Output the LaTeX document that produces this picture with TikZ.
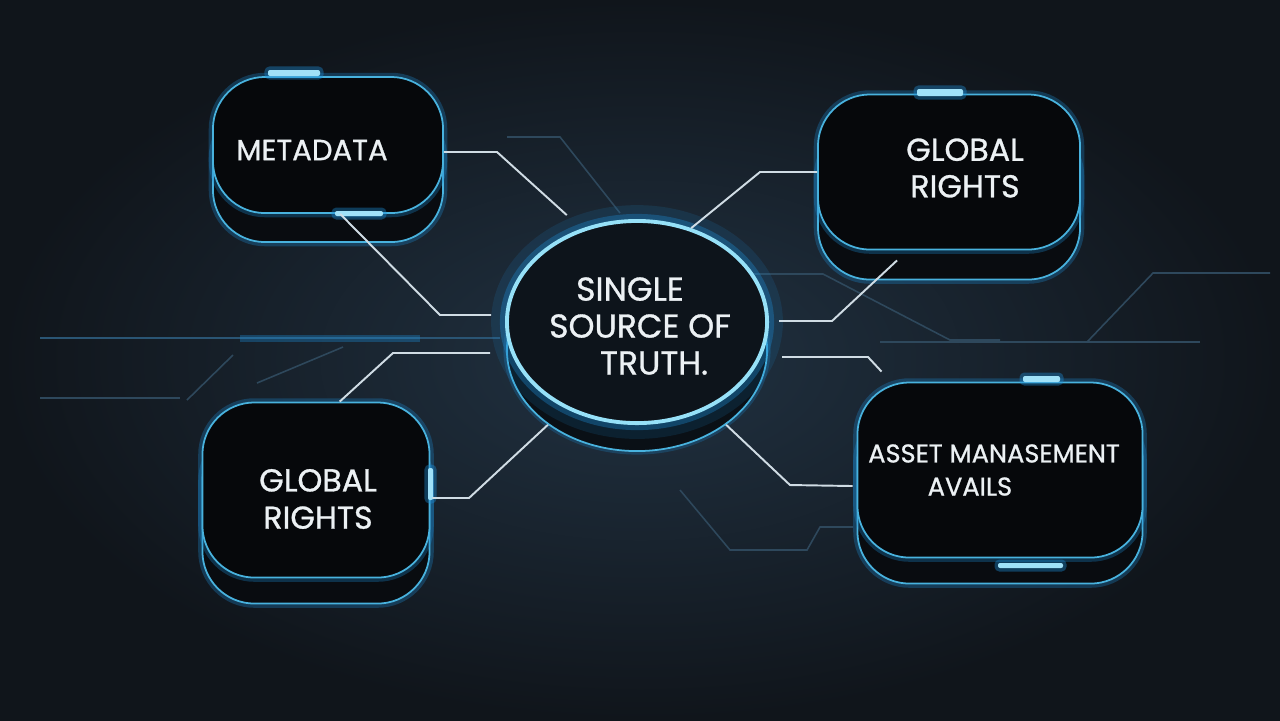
\documentclass[tikz,border=0pt]{standalone}
\usepackage{fontspec}
\setmainfont{Poppins}[FakeBold=0.9]
\usetikzlibrary{shapes.geometric}
\definecolor{bgInner}{RGB}{33,50,66}
\definecolor{bgOuter}{RGB}{16,21,27}
\definecolor{edgeColor}{RGB}{72,178,222}
\definecolor{glowColor}{RGB}{28,138,210}
\definecolor{ringColor}{RGB}{150,225,248}
\definecolor{boxColor}{RGB}{6,8,11}
\definecolor{coreColor}{RGB}{13,20,27}
\definecolor{linkColor}{RGB}{208,220,228}
\definecolor{traceColor}{RGB}{46,72,92}
\definecolor{tabColor}{RGB}{160,225,248}
\definecolor{textColor}{RGB}{236,241,244}
\tikzstyle{boxStyle} = [draw=edgeColor, fill=boxColor, line width=.5pt, rounded corners=.52cm, inner sep=0pt, preaction={draw=glowColor, line width=2.4pt, opacity=.3}]
\tikzstyle{boxBackStyle} = [boxStyle, fill=boxColor!70!bgOuter]
\tikzstyle{coreStyle} = [ellipse, draw=ringColor, fill=coreColor, line width=1.1pt, inner sep=0pt, minimum width=2.6cm, minimum height=2.02cm, preaction={draw=glowColor, line width=4pt, opacity=.35}, preaction={draw=glowColor, line width=9pt, opacity=.14}]
\tikzstyle{coreBackStyle} = [ellipse, draw=edgeColor, fill=coreColor!80!black, line width=.5pt, inner sep=0pt, minimum width=2.6cm, minimum height=2.02cm, preaction={draw=glowColor, line width=2pt, opacity=.25}]
\tikzstyle{boxText} = [text=textColor, align=center, inner sep=0pt]
\tikzstyle{linkLine} = [draw=linkColor, line width=.55pt]
\tikzstyle{traceLine} = [draw=traceColor, line width=.45pt]
\tikzstyle{tabStyle} = [fill=tabColor, rounded corners=.02cm, preaction={draw=glowColor, line width=2pt, opacity=.4}]
\newcommand{\stackedBox}[6]{
  \node [boxBackStyle, minimum width=#4, minimum height=#5] (#1Back) at (#2, #3 + #6) {};
  \node [boxStyle, minimum width=#4, minimum height=#5] (#1) at (#2, #3) {};
}
\newcommand{\glowTab}[4]{\fill [tabStyle] (#1,#2) rectangle (#3,#4);}

\begin{document}
\begin{tikzpicture}[x=.01cm, y=-.01cm]
  \useasboundingbox (0,0) rectangle (1280,720);
  \shade [inner color=bgInner, outer color=bgOuter] (0,0) rectangle (1280,720);

  % faint traces in the background
  \draw [traceLine] (507,137) -- (560,137) -- (620,213);
  \draw [traceLine] (753,274) -- (823,274) -- (950,340) -- (1000,340);
  \draw [traceLine] (880,342) -- (1200,342);
  \draw [traceLine] (1087,342) -- (1153,273) -- (1270,273);
  \draw [traceLine] (680,490) -- (730,550) -- (807,550) -- (820,527) -- (853,527);
  \draw [traceLine] (187,400) -- (233,355);
  \draw [traceLine] (257,383) -- (343,347);
  \draw [traceLine] (40,398) -- (180,398);
  \draw [traceColor!80!glowColor, line width=.5pt] (40,338) -- (500,338);
  \draw [glowColor, line width=2pt, opacity=.35] (240,338) -- (420,338);

  % boxes
  \stackedBox{meta}{328}{145}{2.30cm}{1.36cm}{29}
  \stackedBox{rightsA}{949}{172}{2.62cm}{1.55cm}{30}
  \stackedBox{rightsB}{316}{490}{2.27cm}{1.75cm}{26}
  \stackedBox{asset}{1000}{470}{2.85cm}{1.75cm}{26}
  \node [coreBackStyle] (coreBack) at (637,350) {};
  \node [coreStyle] (core) at (637,322) {};

  \glowTab{268}{70}{320}{76}
  \glowTab{335}{211}{383}{216}
  \glowTab{917}{89}{963}{96}
  \glowTab{1023}{376}{1060}{382}
  \glowTab{998}{563}{1063}{568}
  \glowTab{428}{468}{433}{500}

  % labels
  \node [boxText, font=\fontsize{8.3}{10}\selectfont] (metaText) at (312,150) {METADATA};
  \node [boxText, font=\fontsize{9}{10.4}\selectfont] (rightsAText) at (965,168) {GLOBAL\\RIGHTS};
  \node [boxText, font=\fontsize{9}{10.6}\selectfont] (rightsBText) at (318,499) {GLOBAL\\RIGHTS};
  \node [boxText, font=\fontsize{7.3}{9.4}\selectfont] (assetText) at (994,470) {ASSET MANASEMENT\\AVAILS\hspace*{13.7pt}};
  \node [boxText, font=\fontsize{9.4}{10.5}\selectfont] (coreText) at (640,326) {SINGLE\hspace*{5.7pt}\\SOURCE OF\\\hspace*{8pt}TRUTH.};

  % connectors
  \draw [linkLine] ([shift={(0,7)}]meta.east) -- (497,152) -- ([shift={(-16,-13)}]core.120);
  \draw [linkLine] (meta.-80) -- (440,315) -- ([shift={(-14,-7)}]core.west);
  \draw [linkLine] (core.60) -- (760,172) -- (rightsA.west);
  \draw [linkLine] ([shift={(10,-1)}]core.east) -- (832,321) -- ([shift={(-52,10)}]rightsA.south);
  \draw [linkLine] ([shift={(2,8)}]rightsB.east) -- (469,498) -- (coreBack.-140);
  \draw [linkLine] (rightsB.75) -- (393,353) -- ([shift={(-15,31)}]core.west);
  \draw [linkLine] ([shift={(13,35)}]core.east) -- (868,357) -- ([shift={(25,-10)}]asset.north west);
  \draw [linkLine] (coreBack.-40) -- (790,485) -- ([shift={(-4,16)}]asset.west);
\end{tikzpicture}
\end{document}
